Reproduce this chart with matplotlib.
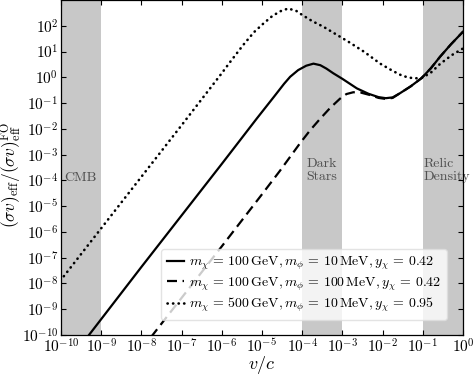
import numpy as np
import matplotlib
matplotlib.use("Agg")
import matplotlib.pyplot as plt

plt.rcParams['mathtext.fontset'] = 'cm'
plt.rcParams['font.family'] = ['cmr10', 'DejaVu Serif']
plt.rcParams['axes.formatter.use_mathtext'] = True

# log10 values
solid_logv = [-9.6, -8.0, -6.0, -5.13, -4.7, -4.45, -4.30, -4.10, -3.90, -3.72, -3.55, -3.40,
              -3.23, -3.0, -2.64, -2.35, -2.10, -1.92, -1.75, -1.57, -1.30, -1.03, -0.80,
              -0.57, -0.30, 0.0]
solid_logr = [-10.6, -7.36, -3.36, -1.60, -0.75, -0.25, 0.02, 0.28, 0.45, 0.53, 0.47, 0.34,
              0.16, -0.06, -0.43, -0.64, -0.77, -0.81, -0.78, -0.62, -0.35, -0.03, 0.35,
              0.80, 1.28, 1.77]

dashed_logv = [-8.0, -7.0, -6.0, -5.0, -4.55, -4.05, -3.80, -3.56, -3.30, -3.06, -2.90, -2.73,
               -2.55, -2.31, -2.10, -1.92, -1.75, -1.57, -1.30, -1.03, -0.80, -0.57, -0.30, 0.0]
dashed_logr = [-10.56, -8.56, -6.56, -4.54, -3.62, -2.55, -2.05, -1.62, -1.18, -0.83, -0.65, -0.58,
               -0.59, -0.69, -0.80, -0.84, -0.80, -0.62, -0.35, -0.03, 0.35, 0.80, 1.28, 1.77]

dotted_logv = [-10.1, -9.0, -8.0, -7.0, -6.0, -5.80, -5.47, -5.20, -4.97, -4.75, -4.55, -4.35,
               -4.15, -4.01, -3.75, -3.47, -3.15, -2.85, -2.45, -2.06, -1.75, -1.50, -1.24,
               -1.03, -0.80, -0.57, -0.28, 0.0]
dotted_logr = [-8.06, -5.86, -3.86, -1.86, 0.16, 0.58, 1.25, 1.75, 2.08, 2.37, 2.56, 2.67,
               2.58, 2.43, 2.18, 1.96, 1.66, 1.38, 0.98, 0.53, 0.25, 0.05, -0.04,
               -0.03, 0.18, 0.52, 0.86, 1.12]

labels = [r'$m_\chi \,=\, 100\,\mathrm{GeV}, m_\phi \,=\, 10\,\mathrm{MeV}, y_\chi \,=\, 0.42$',
          r'$m_\chi \,=\, 100\,\mathrm{GeV}, m_\phi \,=\, 100\,\mathrm{MeV}, y_\chi \,=\, 0.42$',
          r'$m_\chi \,=\, 500\,\mathrm{GeV}, m_\phi \,=\, 10\,\mathrm{MeV}, y_\chi \,=\, 0.95$']

bands = [(1e-10, 1e-9), (1e-4, 1e-3), (1e-1, 1e0)]
band_labels = ['CMB', 'Dark\nStars', 'Relic\nDensity']
band_label_x = [1.2e-10, 1.25e-4, 1.07e-1]
band_label_y = [1.2e-4, 2.4e-4, 2.4e-4]

fig = plt.figure(figsize=(4.74, 3.75), dpi=100)
ax = fig.add_axes([0.1287, 0.1067, 0.8481, 0.8933])

for (a, b) in bands:
    ax.axvspan(a, b, color='#c8c8c8', lw=0, zorder=0)
for s, xx, yy in zip(band_labels, band_label_x, band_label_y):
    ax.text(xx, yy, s, fontsize=10, color='#505050', ha='left', va='center',
            linespacing=1.05, zorder=1)

sv = 10 ** np.array(solid_logv); sr = 10 ** np.array(solid_logr)
dv = 10 ** np.array(dashed_logv); dr = 10 ** np.array(dashed_logr)
ov = 10 ** np.array(dotted_logv); orr = 10 ** np.array(dotted_logr)

ax.plot(sv, sr, color='black', lw=1.6, label=labels[0], zorder=3)
ax.plot(dv, dr, color='black', lw=1.6, ls=(0, (4.5, 2.5)), label=labels[1], zorder=3)
ax.plot(ov, orr, color='black', lw=1.9, ls=(0, (0.1, 2.0)), dash_capstyle='round',
        label=labels[2], zorder=3)

ax.set_xscale('log')
ax.set_yscale('log')
ax.set_xlim(1e-10, 1e0)
ax.set_ylim(1e-10, 1e3)
ax.set_xticks([10.0 ** k for k in range(-10, 1)])
ax.set_yticks([10.0 ** k for k in range(-10, 3)])
ax.minorticks_off()
ax.tick_params(direction='in', top=True, right=True, length=3.5, width=0.8,
               labelsize=11, pad=2)
for sp in ax.spines.values():
    sp.set_linewidth(0.9)

ax.set_xlabel(r'$v/c$', fontsize=13)
ax.xaxis.set_label_coords(0.5, -0.058)
ax.set_ylabel(r'$(\sigma v)_{\rm eff}/(\sigma v)_{\rm eff}^{\rm FO}$', fontsize=12.5)
ax.yaxis.set_label_coords(-0.092, 0.478)

leg = ax.legend(loc='lower right', bbox_to_anchor=(0.96, 0.045), borderaxespad=0,
                fontsize=10, handlelength=1.2, handletextpad=0.4, labelspacing=0.25,
                framealpha=0.8, edgecolor='#dddddd', fancybox=True, borderpad=0.4)
leg.set_zorder(5)

fig.savefig('out.png', dpi=100)
